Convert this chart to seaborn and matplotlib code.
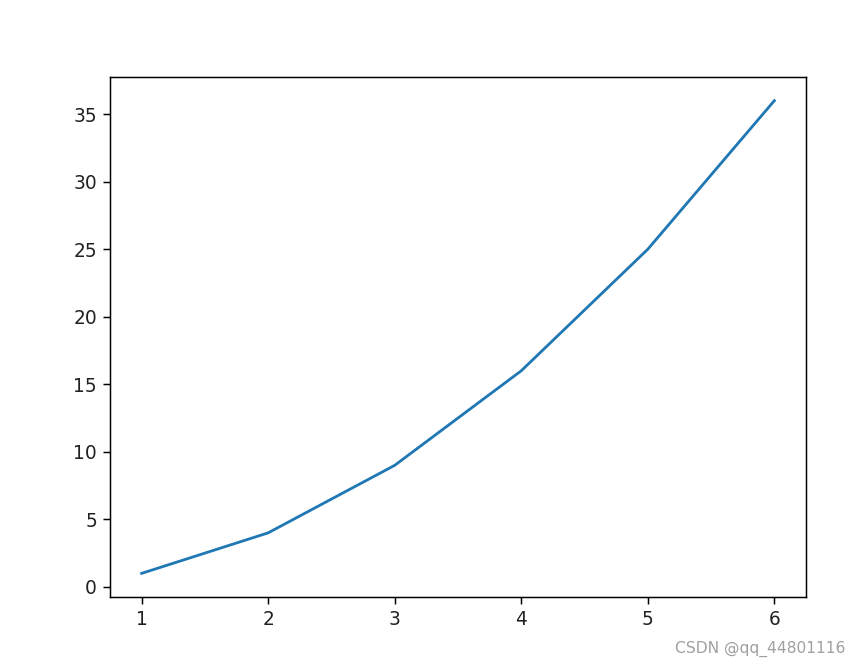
import matplotlib
matplotlib.use("Agg")
import matplotlib.pyplot as plt
import seaborn as sns
import numpy as np

x_values = [1, 2, 3, 4, 5, 6]
y_values = [1, 4, 9, 16, 25, 36]

W, H, DPI = 860, 666, 134
fig = plt.figure(figsize=(W / DPI, H / DPI), dpi=DPI)
ax = fig.add_axes([110 / W, 1 - 597 / H, (806 - 110) / W, (597 - 77) / H])
sns.lineplot(x=x_values, y=y_values, ax=ax, color="#1f77b4", linewidth=1.5)
ax.set_yticks([0, 5, 10, 15, 20, 25, 30, 35])
ax.set_xticks(x_values)
ax.tick_params(labelcolor="#222222")

fig.text(845 / W, 1 - 649 / H, "CSDN @qq_44801116", ha="right", va="center",
         fontsize=8.3, color="#a0a0a0")

fig.savefig("out.png", dpi=DPI)
